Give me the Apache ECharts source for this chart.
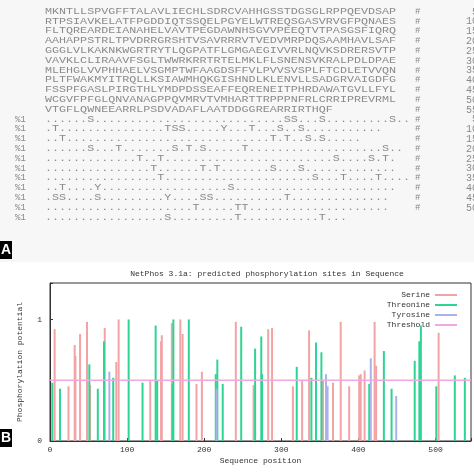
<!DOCTYPE html>
<html>
<head>
<meta charset="utf-8">
<script src="https://cdn.jsdelivr.net/npm/echarts@6/dist/echarts.min.js"></script>
<style>body{margin:0;background:#fff}#main{width:474px;height:474px}</style>
</head>
<body>
<div id="main"></div>
<script>
var seqRows = [
    'MKNTLLSPVGFFTALAVLIECHLSDRCVAHHGSSTDGSGLRPPQEVDSAP',
    'RTPSIAVKELATFPGDDIQTSSQELPGYELWTREQSGASVRVGFPQNAES',
    'FLTQREARDEIANAHELVAVTPEGDAWNHSGVVPEEQTVTPASGSFIQRQ',
    'AAHAPPSTRLTPVDRRGRSHTVSAVRRRVTVEDVMRPDQSAAMHAVLSAF',
    'GGGLVLKAKNKWGRTRYTLQGPATFLGMGAEGIVVRLNQVKSDRERSVTP',
    'VAVKLCLIRAAVFSGLTWWRKRRTRTELMKLFLSNENSVKRALPDLDPAE',
    'MLEHGLVVPHHAELVSGMPTWFAAGDSFFVLPVVSVSPLFTCDLETVVQN',
    'PLTFWAKMYITRQLLKSIAWMHQKGISHNDLKLENVLLSADGRVAIGDFG',
    'FSSPFGASLPIRGTHLYMDPDSSEAFFEQRENEITPHRDAWATGVLLFYL',
    'WCGVFPFGLQNVANAGPPQVMRVTVMHARTTRPPPNFRLCRRIPREVRML',
    'VTGFLQWNEEARRLPSDVADAFLAATDDGGREARRIRTHQF'
];
var siteRows = [
    '......S...........................SS...S.........S..',
    '.T...............TSS.....Y...T...S..S...........',
    '..T.............................T.T..S.S.....',
    '......S...T.......S.T.S.....T...................S..',
    '.............T..T........................S....S.T.',
    '...............T......T.T.......S...S.............',
    '................T.....................S...T....T....',
    '..T....Y..................S.......................',
    '.SS....S.........Y....SS..........T..............',
    '.....................T.....TT....................',
    '.................S.........T...........T...'
];
var rowNums = ['50','100','150','200','250','300','350','400','450','500','550'];

var serinePos = [6, 24, 32, 33, 39, 48, 52, 71, 86, 89, 130, 144, 145, 158, 169, 172, 190, 197, 241, 264, 283, 288, 315, 327, 336, 354, 367, 377, 388, 401, 403, 408, 421, 423, 504];
var serineVal = [0.92, 0.45, 0.79, 0.7, 0.88, 0.98, 0.46, 0.93, 0.65, 1.0, 0.5, 0.82, 0.87, 0.97, 1.0, 0.88, 0.47, 0.57, 0.98, 0.46, 0.92, 0.93, 0.45, 0.5, 0.91, 0.5, 0.48, 0.98, 0.45, 0.54, 0.55, 0.58, 0.98, 0.62, 0.89];
var threoninePos = [3, 13, 51, 62, 70, 82, 102, 120, 137, 139, 159, 160, 180, 215, 217, 224, 248, 266, 274, 275, 320, 339, 345, 352, 414, 433, 443, 473, 479, 481, 501, 525, 538];
var threonineVal = [0.48, 0.43, 0.63, 0.43, 0.82, 0.52, 1.0, 0.48, 0.95, 0.5, 0.47, 1.0, 1.0, 0.55, 0.67, 0.47, 0.94, 0.76, 0.86, 0.55, 0.61, 0.52, 0.81, 0.73, 0.47, 0.74, 0.43, 0.66, 0.82, 0.95, 0.45, 0.54, 0.52];
var tyrosinePos = [77, 216, 358, 360, 416, 449];
var tyrosineVal = [0.57, 0.43, 0.55, 0.45, 0.68, 0.37];
var thresholdVal = 0.5;
var xTicks = [0, 100, 200, 300, 400, 500];
var yTicks = [0, 1];

function pairs(p, v) {
    var out = [];
    for (var i = 0; i < p.length; i++) out.push([p[i], v[i]]);
    return out;
}

var mono = 'Liberation Mono';
var txtColor = '#8a8a8a';
var graphics = [];
graphics.push({type: 'rect', left: 0, top: 0, shape: {width: 474, height: 262}, style: {fill: '#f7f7f7'}, silent: true});
var allRows = [];
for (var i = 0; i < seqRows.length; i++) allRows.push({a: '', b: seqRows[i], n: rowNums[i]});
for (var j = 0; j < siteRows.length; j++) allRows.push({a: '%1', b: siteRows[j], n: j < 10 ? rowNums[j] : ''});
for (var k = 0; k < allRows.length; k++) {
    var y = 7 + k * 9.8;
    if (allRows[k].a) graphics.push({type: 'text', x: 15, y: y, style: {text: allRows[k].a, font: '9px ' + mono, fill: txtColor}});
    graphics.push({type: 'text', x: 45, y: y, scaleX: 1.3, style: {text: allRows[k].b, font: '9px ' + mono, fill: txtColor}});
    if (allRows[k].n) {
        graphics.push({type: 'text', x: 415, y: y, style: {text: '#', font: '9px ' + mono, fill: txtColor}});
        graphics.push({type: 'text', x: 484, y: y, style: {text: allRows[k].n, font: '10px ' + mono, fill: txtColor, align: 'right'}});
    }
}
graphics.push({type: 'rect', left: 0, top: 241, shape: {width: 12, height: 18}, style: {fill: '#000'}});
graphics.push({type: 'text', x: 1, y: 243, style: {text: 'A', font: 'bold 14px Arial', fill: '#fff'}});
graphics.push({type: 'rect', left: 0, top: 429, shape: {width: 12, height: 18}, style: {fill: '#000'}});
graphics.push({type: 'text', x: 1, y: 431, style: {text: 'B', font: 'bold 14px Arial', fill: '#fff'}});

var chart = echarts.init(document.getElementById('main'));
var option = {
    animation: false,
    title: {
        text: 'NetPhos 3.1a: predicted phosphorylation sites in Sequence',
        left: 262, top: 265, textAlign: 'center',
        textStyle: {fontFamily: mono, fontSize: 8, fontWeight: 'normal', color: '#333'}
    },
    legend: {
        right: 12, top: 286, orient: 'vertical', align: 'right',
        itemWidth: 22, itemHeight: 2, itemGap: 2,
        textStyle: {fontFamily: mono, fontSize: 8, color: '#333'},
        data: [
            {name: 'Serine', icon: 'rect'},
            {name: 'Threonine', icon: 'rect'},
            {name: 'Tyrosine', icon: 'rect'},
            {name: 'Threshold', icon: 'rect'}
        ]
    },
    grid: {left: 50, top: 283, right: 0, bottom: 33, show: true, borderColor: '#333', borderWidth: 1},
    xAxis: {
        type: 'value', min: 0, max: 546, interval: 100,
        name: 'Sequence position', nameLocation: 'middle', nameGap: 16,
        nameTextStyle: {fontFamily: mono, fontSize: 8, color: '#333'},
        axisLine: {lineStyle: {color: '#333'}},
        axisTick: {inside: true, length: 3, lineStyle: {color: '#333'}},
        axisLabel: {fontFamily: mono, fontSize: 8, color: '#333', margin: 5,
            formatter: function (v) { return xTicks.indexOf(v) >= 0 ? String(v) : ''; }},
        splitLine: {show: false}
    },
    yAxis: {
        type: 'value', min: 0, max: 1.3, interval: 1,
        name: 'Phosphorylation potential', nameLocation: 'middle', nameGap: 26,
        nameTextStyle: {fontFamily: mono, fontSize: 8, color: '#333'},
        axisLine: {lineStyle: {color: '#333'}},
        axisTick: {inside: true, length: 3, lineStyle: {color: '#333'}},
        axisLabel: {fontFamily: mono, fontSize: 8, color: '#333', margin: 8,
            formatter: function (v) { return yTicks.indexOf(v) >= 0 ? String(v) : ''; }},
        splitLine: {show: false}
    },
    series: [
        {name: 'Serine', type: 'bar', barWidth: 2, barGap: '-100%', data: pairs(serinePos, serineVal), itemStyle: {color: '#f2a3a6'}},
        {name: 'Threonine', type: 'bar', barWidth: 2, barGap: '-100%', data: pairs(threoninePos, threonineVal), itemStyle: {color: '#2ed493'}},
        {name: 'Tyrosine', type: 'bar', barWidth: 2, barGap: '-100%', data: pairs(tyrosinePos, tyrosineVal), itemStyle: {color: '#a9b2ea'}},
        {name: 'Threshold', type: 'line', symbol: 'none', data: [[0, thresholdVal], [546, thresholdVal]],
            lineStyle: {color: '#f0a8e2', width: 1.5}, itemStyle: {color: '#f0a8e2'}}
    ],
    graphic: graphics
};
chart.setOption(option);
</script>
</body>
</html>
